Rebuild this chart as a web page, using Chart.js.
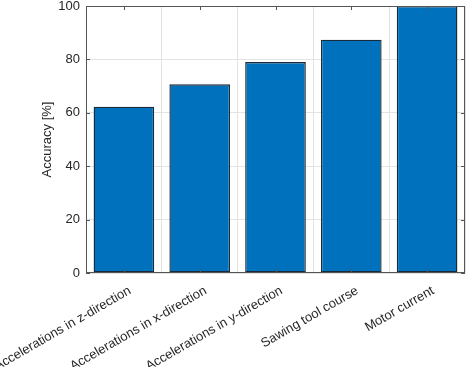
<!DOCTYPE html>
<html>
<head>
<meta charset="utf-8">
<script src="https://cdn.jsdelivr.net/npm/chart.js@4"></script>
<style>
  html, body { margin: 0; padding: 0; background: #fff; }
  #wrap { width: 474px; height: 367px; }
</style>
</head>
<body>
<div id="wrap"><canvas id="chart-accuracy"></canvas></div>
<script>
// data
const categories = ['Accelerations in z-direction', 'Accelerations in x-direction', 'Accelerations in y-direction', 'Sawing tool course', 'Motor current'];
const accuracy = [62.3, 70.7, 79.0, 87.4, 100];
const yTicks = [0, 20, 40, 60, 80, 100];

const axisColor = '#555555';
const textColor = '#262626';

// matlab style box with inner ticks on all four sides
const boxPlugin = {
    id: 'box',
    afterDraw(chart) {
        const ctx = chart.ctx;
        const a = chart.chartArea;
        const x = chart.scales.x, y = chart.scales.y;
        ctx.save();
        ctx.strokeStyle = axisColor;
        ctx.lineWidth = 1;
        ctx.strokeRect(a.left + 0.5, a.top + 0.5, a.right - a.left - 1, a.bottom - a.top - 1);
        ctx.beginPath();
        for (let i = 0; i < x.ticks.length; i++) {
            const px = Math.round(x.getPixelForTick(i)) + 0.5;
            ctx.moveTo(px, a.bottom); ctx.lineTo(px, a.bottom - 4);
            ctx.moveTo(px, a.top); ctx.lineTo(px, a.top + 4);
        }
        for (let i = 0; i < y.ticks.length; i++) {
            const py = Math.round(y.getPixelForTick(i)) + 0.5;
            ctx.moveTo(a.left, py); ctx.lineTo(a.left + 4, py);
            ctx.moveTo(a.right, py); ctx.lineTo(a.right - 4, py);
        }
        ctx.stroke();
        ctx.restore();
    }
};

Chart.defaults.font.family = '"Liberation Sans", Arial, sans-serif';
Chart.defaults.font.size = 13;
Chart.defaults.color = textColor;

var chartAccuracy = new Chart(document.getElementById('chart-accuracy'), {
    type: 'bar',
    data: {
        labels: categories,
        datasets: [{
            label: 'Accuracy',
            data: accuracy,
            backgroundColor: '#0072bd',
            borderColor: '#1a2a3a',
            borderWidth: 1.4,
            borderSkipped: false,
            categoryPercentage: 1.0,
            barPercentage: 0.8
        }]
    },
    options: {
        responsive: true,
        maintainAspectRatio: false,
        animation: false,
        layout: { padding: { top: 6, right: 9, left: 0, bottom: 0 } },
        plugins: {
            legend: { display: false },
            tooltip: { enabled: false }
        },
        scales: {
            x: {
                grid: { color: '#e3e3e3', drawTicks: false },
                border: { display: false },
                ticks: {
                    minRotation: 30,
                    maxRotation: 30,
                    autoSkip: false,
                    padding: 10,
                    labelOffset: 6,
                    color: textColor
                },
                afterFit(s) {
                    s.height = 94;
                    s.paddingLeft = 0;
                    s.paddingRight = 0;
                }
            },
            y: {
                min: 0,
                max: 100,
                afterBuildTicks(s) { s.ticks = yTicks.map(v => ({ value: v })); },
                grid: { color: '#e3e3e3', drawTicks: false },
                border: { display: false },
                ticks: { padding: 6, color: textColor },
                title: {
                    display: true,
                    text: 'Accuracy [%]',
                    color: textColor,
                    font: { size: 13 },
                    padding: { top: 40, bottom: 0 }
                },
                afterFit(s) {
                    s.width = 86;
                    s.paddingTop = 0;
                    s.paddingBottom = 0;
                }
            }
        }
    },
    plugins: [boxPlugin]
});
</script>
</body>
</html>
